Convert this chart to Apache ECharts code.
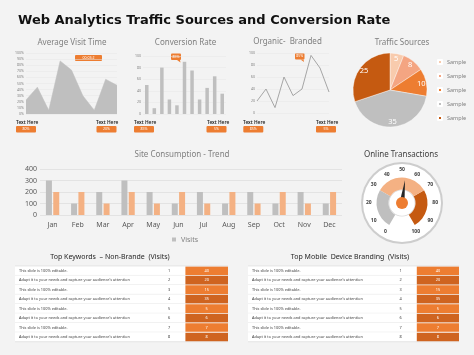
<!DOCTYPE html>
<html><head><meta charset="utf-8">
<script src="https://cdn.jsdelivr.net/npm/echarts@6/dist/echarts.min.js"></script>
<style>html,body{margin:0;padding:0;background:#f3f3f3}#c{width:474px;height:355px}</style>
</head><body><div id="c"></div>
<script>
// ---- data ----
const visitTimeSteps = [1, 2, 3, 4, 5, 6, 7, 8, 9];
const visitTimeValues = [23, 44, 6, 87, 72, 30, 6, 57, 47];
const conversionSteps = [1, 2, 3, 4, 5, 6, 7, 8, 9, 10, 11];
const conversionValues = [50, 10, 80, 25, 15, 90, 75, 25, 45, 65, 35];
const organicSteps = [1, 2, 3, 4, 5, 6, 7, 8, 9];
const organicValues = [20, 40, 9, 60, 29, 40, 96, 75, 35];
const trafficNames = ['Sample 1', 'Sample 2', 'Sample 3', 'Sample 4', 'Sample 5'];
const trafficValues = [5, 8, 10, 35, 25];
const months = ['Jan', 'Feb', 'Mar', 'Apr', 'May', 'Jun', 'Jul', 'Aug', 'Sep', 'Oct', 'Nov', 'Dec'];
const visitsSeries = [300, 100, 200, 300, 200, 100, 200, 100, 200, 100, 200, 100];
const secondSeries = [200, 200, 100, 200, 100, 200, 100, 200, 100, 200, 100, 200];
const transactionValue = 52.5;
const rowTexts = ['This slide is 100% editable.', "Adapt it to your needs and capture your audience's attention",
  'This slide is 100% editable.', "Adapt it to your needs and capture your audience's attention",
  'This slide is 100% editable.', "Adapt it to your needs and capture your audience's attention",
  'This slide is 100% editable.', "Adapt it to your needs and capture your audience's attention"];
const rowRanks = [1, 2, 3, 4, 5, 6, 7, 8];
const keywordVisits = [40, 20, 15, 35, 5, 6, 7, 8];
const deviceVisits = [40, 20, 15, 35, 5, 6, 7, 8];

// ---- styles ----
const ORANGE = '#ed7d31', DARK = '#c55a11', SALMON = '#f4b183', GRAY = '#bfbfbf';
const F = '"Noto Sans", sans-serif';
const pieColors = ['#f8cbad', '#f4a582', ORANGE, GRAY, DARK];

function txt(x, y, text, font, fill, align) {
  align = align || 'left';
  return {type: 'text', x: x, y: y, silent: true,
    style: {text: text, font: font, fill: fill, align: align, verticalAlign: 'middle'}};
}
function badge(x, y, w, h, text, tail) {
  const ch = [{type: 'rect', shape: {x: x, y: y, width: w, height: h, r: 1}, style: {fill: ORANGE}}];
  if (tail) ch.push({type: 'polygon', shape: {points: [[x + w - 4, y + h], [x + w - 1, y + h], [x + w - 0.5, y + h + 2.5]]}, style: {fill: ORANGE}});
  ch.push(txt(x + w / 2, y + h / 2, text, '3.5px ' + F, '#ffffff', 'center'));
  return {type: 'group', children: ch};
}

const graphics = [
  txt(18, 20.5, 'Web Analytics Traffic Sources and Conversion Rate', 'bold 13px "DejaVu Sans"', '#111111'),
  txt(72, 42.3, 'Average Visit Time', '8px ' + F, '#7f7f7f', 'center'),
  txt(185.5, 42.3, 'Conversion Rate', '8px ' + F, '#7f7f7f', 'center'),
  txt(287.5, 41.7, 'Organic-  Branded', '8px ' + F, '#7f7f7f', 'center'),
  txt(402, 42.7, 'Traffic Sources', '8px ' + F, '#7f7f7f', 'center'),
  txt(182, 154.7, 'Site Consumption - Trend', '8px ' + F, '#7f7f7f', 'center'),
  txt(401, 155, 'Online Transactions', '8px ' + F, '#404040', 'center'),
  txt(110, 257.3, 'Top Keywords  \u2013 Non-Brande  (Visits)', '7px ' + F, '#262626', 'center'),
  txt(350, 257.3, 'Top Mobile  Device Branding  (Visits)', '7px ' + F, '#262626', 'center'),
  txt(16, 122.3, 'Text Here', '600 4.8px ' + F, '#262626'),
  txt(96, 122.3, 'Text Here', '600 4.8px ' + F, '#262626'),
  txt(134, 122.3, 'Text Here', '600 4.8px ' + F, '#262626'),
  txt(207, 122.3, 'Text Here', '600 4.8px ' + F, '#262626'),
  txt(243, 122.3, 'Text Here', '600 4.8px ' + F, '#262626'),
  txt(316, 122.3, 'Text Here', '600 4.8px ' + F, '#262626'),
  badge(16, 126, 20, 6.5, '80%'),
  badge(96.5, 126, 20, 6.5, '20%'),
  badge(134, 126, 20, 6.5, '85%'),
  badge(206.5, 126, 20, 6.5, '5%'),
  badge(243.3, 126, 20, 6.5, '85%'),
  badge(316, 126, 20, 6.5, '5%'),
  badge(75, 55, 27, 6, '00:03:2'),
  badge(171, 53.5, 10, 6.5, '85%', true),
  badge(295, 53, 9.5, 6.5, '85%', true)
];

function tableRender(vals) {
  return function (params, api) {
    const i = api.value(0);
    const cs = params.coordSys;
    const yc = api.coord([0, i])[1];
    const h = api.size([0, 1])[1];
    const y0 = yc - h / 2, x0 = cs.x, w = cs.width;
    const cellX = x0 + w * 0.8;
    const ch = [
      {type: 'rect', shape: {x: x0, y: y0, width: w, height: h}, style: {fill: '#ffffff'}},
      {type: 'line', shape: {x1: x0, y1: y0 + h, x2: x0 + w, y2: y0 + h}, style: {stroke: '#d9d9d9', lineWidth: 0.6}},
      txt(x0 + 4, yc, rowTexts[i], '3.9px ' + F, '#404040'),
      txt(x0 + w * 0.723, yc, String(api.value(1)), '3.9px ' + F, '#404040', 'center'),
      {type: 'rect', shape: {x: cellX, y: y0 + 0.4, width: x0 + w - cellX, height: h - 0.8}, style: {fill: i % 2 ? '#cf6420' : ORANGE}},
      txt((cellX + x0 + w) / 2, yc, String(vals[i]), '3.9px ' + F, '#ffffff', 'center')
    ];
    if (i === 0) ch.push({type: 'line', shape: {x1: x0, y1: y0, x2: x0 + w, y2: y0}, style: {stroke: '#d9d9d9', lineWidth: 0.6}});
    return {type: 'group', children: ch};
  };
}

const smallY = (gi, interval, fmt) => ({
  type: 'value', gridIndex: gi, min: 0, max: 100, interval: interval,
  axisLine: {show: false}, axisTick: {show: false},
  axisLabel: {fontSize: 3.5, color: '#7f7f7f', margin: 2, formatter: fmt, fontFamily: F},
  splitLine: {lineStyle: {color: '#e6e6e6', width: 0.5}}
});
const hiddenCat = (gi, data, gap) => ({
  type: 'category', gridIndex: gi, data: data, boundaryGap: gap,
  axisLine: {show: false}, axisTick: {show: false}, axisLabel: {show: false}, splitLine: {show: false}
});
const hiddenGauge = {
  axisLine: {show: false}, splitLine: {show: false}, axisTick: {show: false}, axisLabel: {show: false},
  pointer: {show: false}, anchor: {show: false}, title: {show: false}, detail: {show: false}
};

const option = {
  backgroundColor: '#f3f3f3',
  animation: false,
  textStyle: {fontFamily: F},
  graphic: graphics,
  grid: [
    {left: 26, top: 53, width: 91, height: 61},
    {left: 143, top: 56, width: 83, height: 58},
    {left: 257, top: 53, width: 72, height: 60},
    {left: 40, top: 169, width: 302, height: 46},
    {left: 15, top: 266, width: 213, height: 75.7},
    {left: 248, top: 266, width: 211, height: 75.7}
  ],
  xAxis: [
    hiddenCat(0, visitTimeSteps, false),
    hiddenCat(1, conversionSteps, true),
    hiddenCat(2, organicSteps, false),
    {type: 'category', gridIndex: 3, data: months, axisLine: {show: false}, axisTick: {show: false},
      axisLabel: {fontSize: 7, color: '#595959', margin: 6}},
    {type: 'value', gridIndex: 4, min: 0, max: 10, show: false},
    {type: 'value', gridIndex: 5, min: 0, max: 10, show: false}
  ],
  yAxis: [
    smallY(0, 10, '{value}%'),
    smallY(1, 20),
    smallY(2, 20),
    {type: 'value', gridIndex: 3, min: 0, max: 400, interval: 100, axisLine: {show: false}, axisTick: {show: false},
      axisLabel: {fontSize: 7, color: '#595959', margin: 3}, splitLine: {lineStyle: {color: '#d9d9d9', width: 0.6}}},
    {type: 'category', gridIndex: 4, data: rowRanks, inverse: true, show: false},
    {type: 'category', gridIndex: 5, data: rowRanks, inverse: true, show: false}
  ],
  legend: [
    {data: ['Visits'], left: 172, top: 236, padding: 0, itemWidth: 4, itemHeight: 4, icon: 'rect',
      textStyle: {fontSize: 7, color: '#7f7f7f', fontFamily: F}},
    {data: trafficNames, orient: 'vertical', left: 437, top: 59, padding: 0, itemWidth: 4, itemHeight: 4, icon: 'rect', itemGap: 8,
      formatter: () => 'Sample', textStyle: {fontSize: 5.5, color: '#7f7f7f', fontFamily: F}}
  ],
  series: [
    {type: 'line', xAxisIndex: 0, yAxisIndex: 0, data: visitTimeValues, symbol: 'none',
      lineStyle: {color: GRAY, width: 0.5}, areaStyle: {color: GRAY, opacity: 1}},
    {type: 'bar', xAxisIndex: 1, yAxisIndex: 1, data: conversionValues, barWidth: 3.5, itemStyle: {color: GRAY}},
    {type: 'line', xAxisIndex: 2, yAxisIndex: 2, data: organicValues, symbol: 'none',
      lineStyle: {color: '#a6a6a6', width: 1}},
    {name: 'Visits', type: 'bar', xAxisIndex: 3, yAxisIndex: 3, data: visitsSeries, barWidth: 6, barGap: '22%', itemStyle: {color: GRAY}},
    {name: 'Visits 2', type: 'bar', xAxisIndex: 3, yAxisIndex: 3, data: secondSeries, barWidth: 6, barGap: '22%', itemStyle: {color: SALMON}},
    {type: 'pie', center: [390, 90], radius: [0, 37], startAngle: 90, clockwise: true, label: {show: false}, labelLine: {show: false},
      itemStyle: {borderColor: '#ffffff', borderWidth: 0.4},
      data: trafficNames.map((n, i) => ({name: n, value: trafficValues[i], itemStyle: {color: pieColors[i]}}))},
    {type: 'pie', center: [390, 90], radius: [21, 37], startAngle: 90, clockwise: true, silent: true,
      itemStyle: {color: 'rgba(0,0,0,0)'}, labelLine: {show: false},
      label: {show: true, position: 'inside', formatter: '{c}', color: '#ffffff', fontSize: 7.5, fontFamily: F},
      data: trafficNames.map((n, i) => ({name: n, value: trafficValues[i]}))},
    Object.assign({}, hiddenGauge, {type: 'gauge', center: [402, 203], radius: 41, startAngle: 90, endAngle: -270,
      axisLine: {show: true, lineStyle: {width: 41, color: [[1, '#cdcdcd']]}}}),
    Object.assign({}, hiddenGauge, {type: 'gauge', center: [402, 203], radius: 39, startAngle: 90, endAngle: -270,
      axisLine: {show: true, lineStyle: {width: 39, color: [[1, '#ffffff']]}}}),
    Object.assign({}, hiddenGauge, {type: 'gauge', center: [402, 203], radius: 13.5, startAngle: 90, endAngle: -270,
      axisLine: {show: true, lineStyle: {width: 0.8, color: [[1, '#d9d9d9']]}}}),
    {type: 'gauge', center: [402, 203], radius: 25.5, startAngle: 240, endAngle: -60, min: 0, max: 100,
      axisLine: {lineStyle: {width: 12, color: [[0.3, GRAY], [0.7, SALMON], [1, DARK]]}},
      splitLine: {show: false}, axisTick: {show: false}, axisLabel: {show: false},
      pointer: {show: true, length: 23, width: 2.5, itemStyle: {color: '#262626'}},
      anchor: {show: true, size: 12, showAbove: true, itemStyle: {color: ORANGE}},
      title: {show: false}, detail: {show: false},
      data: [{value: transactionValue}]},
    {type: 'gauge', center: [402, 203], radius: 36, startAngle: 240, endAngle: -60, min: 0, max: 100, splitNumber: 10,
      axisLine: {show: false}, splitLine: {show: false, length: 0, distance: 0}, axisTick: {show: false, distance: 0},
      axisLabel: {show: true, distance: 0, fontSize: 5, fontWeight: 'bold', color: '#404040', fontFamily: F},
      pointer: {show: false}, anchor: {show: false}, title: {show: false}, detail: {show: false}, data: []},
    {type: 'custom', xAxisIndex: 4, yAxisIndex: 4, encode: {x: 1, y: 0},
      data: rowRanks.map((r, i) => [i, r, keywordVisits[i]]), renderItem: tableRender(keywordVisits)},
    {type: 'custom', xAxisIndex: 5, yAxisIndex: 5, encode: {x: 1, y: 0},
      data: rowRanks.map((r, i) => [i, r, deviceVisits[i]]), renderItem: tableRender(deviceVisits)}
  ]
};
const chart = echarts.init(document.getElementById('c'));
chart.setOption(option);
</script>
</body></html>
